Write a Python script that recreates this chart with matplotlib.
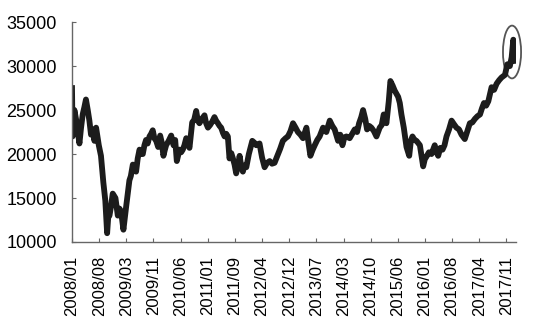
import matplotlib
matplotlib.use("Agg")
import matplotlib.pyplot as plt
from matplotlib.patches import Ellipse

plt.rcParams['font.family'] = ['Liberation Sans', 'DejaVu Sans']

# trading-day index (approx.) and index level
days = [0, 3, 6, 9, 13, 22, 30, 41, 50, 59, 68, 77, 87, 96, 105, 115, 124, 133, 148,
        160, 173, 184, 194, 200, 207, 215, 225, 240, 253, 262, 271, 284, 299, 317, 325,
        336, 345, 354, 363, 373, 382, 391, 400, 409, 418, 428, 437, 446, 455, 465,
        476, 487, 496, 505, 512, 520, 534, 548, 561, 570, 579, 594, 603, 612, 621,
        631, 640, 649, 664, 675, 686, 695, 704, 718, 732, 741, 751, 763, 775, 787,
        796, 806, 815, 824, 834, 843, 852, 861, 870, 880, 889, 898, 907, 917, 926,
        935, 944, 953, 963, 977, 987, 996, 1007, 1018, 1036, 1050, 1064, 1078,
        1092, 1105, 1119, 1138, 1150, 1165, 1180, 1193, 1207, 1221, 1235, 1248,
        1262, 1276, 1295, 1305, 1317, 1330, 1341, 1355, 1368, 1387, 1405, 1424,
        1438, 1451, 1470, 1482, 1494, 1505, 1516, 1534, 1548, 1562, 1575, 1586,
        1598, 1608, 1620, 1630, 1642, 1654, 1668, 1682, 1700, 1711, 1722, 1737,
        1750, 1759, 1771, 1783, 1802, 1811, 1820, 1833, 1848, 1863, 1872, 1881,
        1892, 1903, 1922, 1940, 1949, 1958, 1972, 1986, 2004, 2014, 2023, 2035,
        2047, 2058, 2069, 2083, 2097, 2110, 2124, 2138, 2152, 2170, 2184, 2198,
        2212, 2226, 2240, 2254, 2265, 2276, 2288, 2300, 2318, 2332, 2346, 2360,
        2373, 2392, 2405, 2419, 2429, 2438, 2444, 2451]
values = [27500, 22000, 25000, 22500, 25000, 24000, 22800, 21200, 23000, 24500, 25300,
          26200, 25000, 23800, 22200, 22800, 21500, 23000, 21000,
          19800, 16800, 14700, 11000, 12800, 13000, 14000, 15500, 15000, 13000, 13800,
          13500, 11400, 14000, 17000, 17500, 18800, 18300, 18000, 19500, 20500, 20000,
          20000, 21000, 21600, 21200, 22000, 22300, 22700, 21800, 21500,
          20800, 22100, 21300, 19800, 20400, 21000, 21500, 22100, 21000, 21600,
          19200, 20500, 20200, 20500, 21000, 21800, 21200, 20700, 23600, 23900,
          24900, 23800, 23500, 24000, 24400, 23500, 23000, 23300, 23700, 24200,
          23800, 23500, 23200, 23000, 22400, 22000, 22300, 22000, 19500, 20100,
          19500, 18800, 17800, 18700, 19800, 18600, 18000, 18700, 18500, 20000,
          20800, 21500, 21300, 21000, 21200, 19600, 18500, 19000, 19200, 18900,
          19000, 20000, 20600, 21500, 21800, 22000, 22600, 23500, 23000, 22500,
          22200, 21800, 23000, 21500, 19800, 20500, 21000, 21600, 22000, 23000,
          22500, 23800, 23200, 22800, 21500, 22200, 21000, 21900, 22000, 21800,
          22300, 22800, 22500, 23500, 24200, 25000, 24000, 22800, 23200, 23000,
          22600, 22000, 23000, 23300, 24500, 23500, 26000, 28300, 27800, 27200,
          26500, 25800, 24500, 23000, 20800, 19800, 21500, 22000, 21600, 21500,
          21000, 18600, 19400, 19700, 20200, 20000, 21000, 20200, 19800, 20700,
          20500, 21000, 22000, 22800, 23800, 23400, 23000, 22800, 22200, 21700,
          22600, 23500, 23600, 24000, 24300, 24500, 25200, 25800, 25500, 26000,
          27600, 27300, 28000, 28400, 28700, 29000, 30200, 30000, 31000, 33000,
          32000, 30600]

tick_labels = ['2008/01', '2008/08', '2009/03', '2009/11', '2010/06', '2011/01',
               '2011/09', '2012/04', '2012/12', '2013/07', '2014/03', '2014/10',
               '2015/06', '2016/01', '2016/08', '2017/04', '2017/11']
tick_step = 150
y_ticks = [10000, 15000, 20000, 25000, 30000, 35000]

fig = plt.figure(figsize=(5.35, 3.25), dpi=100)
ax = fig.add_axes([0.1346, 0.2554, 0.8299, 0.6766])

ax.plot(days, values, color='#1c1c1c', lw=4.2, solid_joinstyle='round')

ax.set_xlim(0, days[-1] + 2)
ax.set_ylim(y_ticks[0], y_ticks[-1])
ax.set_yticks(y_ticks)
ax.set_yticklabels([str(v) for v in y_ticks], fontsize=13)
ax.set_xticks([i * tick_step for i in range(len(tick_labels))])
ax.set_xticklabels(tick_labels, rotation=90, fontsize=12)

ax.tick_params(axis='x', direction='in', length=3, pad=10, color='#666666')
ax.tick_params(axis='y', direction='in', length=3, pad=11, color='#666666')
for s in ['top', 'right']:
    ax.spines[s].set_visible(False)
for s in ['left', 'bottom']:
    ax.spines[s].set_color('#666666')
    ax.spines[s].set_linewidth(1.0)

# highlight ellipse around the final spike
hl_d = [d for d in days if d >= 2405]
hl_v = [v for d, v in zip(days, values) if d >= 2405]
cx = (min(hl_d) + max(hl_d)) / 2 + 3
cy = (min(hl_v) + max(hl_v)) / 2 + 100
ell = Ellipse((cx, cy), width=100, height=6000, fill=False,
              edgecolor='#555555', lw=1.3, clip_on=False)
ax.add_patch(ell)

fig.savefig('out.png', dpi=100)
